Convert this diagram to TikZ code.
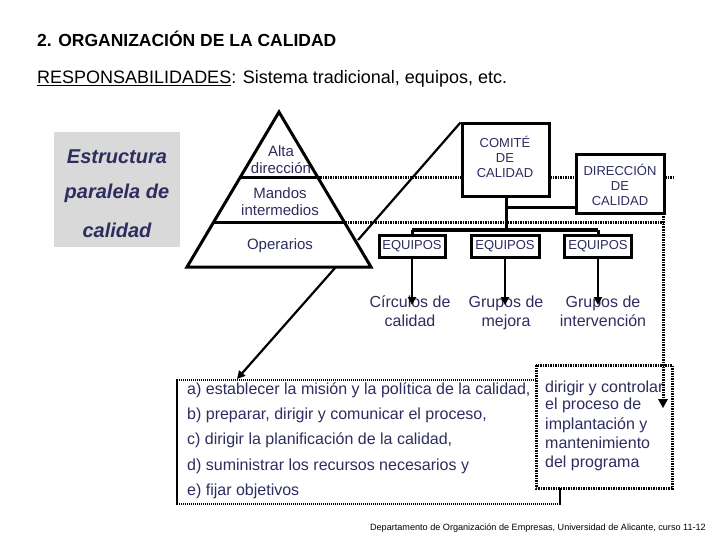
\documentclass[tikz,border=0pt]{standalone}
\usepackage{fontspec}
\setmainfont{Liberation Sans}
\usetikzlibrary{arrows.meta}
\definecolor{txt}{RGB}{45,45,95}
\definecolor{gbox}{RGB}{217,217,217}
\begin{document}
\begin{tikzpicture}[x=1pt,y=-1pt,
  thick box/.style={draw=black,line width=3pt,inner sep=0pt},
  tx/.style={text=txt,font=\fontsize{13}{15}\selectfont,align=center,inner sep=0pt},
  tt/.style={text=txt,font=\fontsize{15}{17}\selectfont,align=center,inner sep=0pt},
  bt/.style={text=txt,font=\fontsize{16}{18}\selectfont,anchor=west,inner sep=0pt},
  dotl/.style={line width=3pt,dash pattern=on 1.5pt off 1pt},
  fine dot/.style={line width=1.3pt,dash pattern=on 1pt off 1pt},
  conn/.style={line width=3pt},
  arr/.style={line width=2.2pt,-{Triangle[length=8pt,width=8pt]}}]
\useasboundingbox (0,0) rectangle (720,540);
% title
\node[anchor=west,inner sep=0pt,font=\bfseries\fontsize{17.5}{19}\selectfont] (title) at (37,39) {2. ORGANIZACIÓN DE LA CALIDAD};
\node[anchor=west,inner sep=0pt,font=\fontsize{18}{20}\selectfont] (sub) at (37,79) {\underline{RESPONSABILIDADES}: Sistema tradicional, equipos, etc.};
% gray box
\fill[gbox] (54,132) rectangle (180,247);
\node[tx,font=\bfseries\itshape\fontsize{20}{22}\selectfont] (e1) at (117,157) {Estructura};
\node[tx,font=\bfseries\itshape\fontsize{20}{22}\selectfont] (e2) at (117,193) {paralela de};
\node[tx,font=\bfseries\itshape\fontsize{20}{22}\selectfont] (e3) at (117,230) {calidad};
% dotted level lines
\draw[dotl] (320,178) -- (673,178);
\draw[dotl] (345,223) -- (663,223);
% triangle
\coordinate (apex) at (279,112);
\coordinate (bl) at (187,267);
\coordinate (br) at (371,267);
\draw[line width=3pt,line join=miter] (apex) -- (bl) -- (br) -- cycle;
\draw[line width=3pt] (239,178) -- (320,178);
\draw[line width=3pt] (213,223) -- (345,223);
\node[tt] (alta) at (281,160) {Alta\\dirección};
\node[tt] (mandos) at (280,202) {Mandos\\intermedios};
\node[tt] (oper) at (280,246) {Operarios};
% boxes
\node[thick box,fill=white,minimum width=87pt,minimum height=73pt] (com) at (505.5,160.5) {};
\node[tx,anchor=center] (comt) at (505,157) {COMITÉ\\DE\\CALIDAD};
\node[thick box,fill=white,minimum width=88pt,minimum height=59pt,tx,draw=black] (dir) at (620,184.5) {DIRECCIÓN\\DE\\CALIDAD};
% diagonal lines
\draw[line width=2.2pt] (358,240) -- (com.north west);
\coordinate (ds) at (335,268);
\coordinate (dtip) at (237,379);
\draw[arr] (ds) -- (dtip);
% connectors
\coordinate (j1) at (506,208);
\coordinate (j2) at (506,230);
\draw[conn] (506,197) -- (j2);
\draw[conn] (j1) -- (dir.west |- j1);
\node[thick box,fill=white,minimum width=66pt,minimum height=22pt,tx] (q1) at (412,246) {EQUIPOS};
\node[thick box,fill=white,minimum width=68pt,minimum height=22pt,tx] (q2) at (505,246) {EQUIPOS};
\node[thick box,fill=white,minimum width=67pt,minimum height=22pt,tx] (q3) at (598,246) {EQUIPOS};
\draw[conn] (q1.north |- j2) -- (q3.north |- j2);
\draw[conn] (q1.north |- j2) -- (q1.north);
\draw[conn] (q3.north |- j2) -- (q3.north);
\node[tx,font=\fontsize{16}{19}\selectfont,anchor=base] (g1) at (410,326) {Círculos de\\calidad};
\node[tx,font=\fontsize{16}{19}\selectfont,anchor=base] (g2) at (506,326) {Grupos de\\mejora};
\node[tx,font=\fontsize{16}{19}\selectfont,anchor=base] (g3) at (603,326) {Grupos de\\intervención};
\draw[arr] (q1.south) -- (412,305);
\draw[arr] (q2.south) -- (505,305);
\draw[arr] (q3.south) -- (598,305);
% bottom box
\draw[fine dot] (177,380) -- (560,380);
\draw[fine dot] (177,504) -- (560,504);
\draw[line width=2.2pt] (177,379) -- (177,505);
\draw[line width=2.2pt] (560,488) -- (560,505);
\node[bt] (a) at (187,390) {a) establecer la misión y la política de la calidad,};
\node[bt] (b) at (187,415) {b) preparar, dirigir y comunicar el proceso,};
\node[bt] (c) at (187,440) {c) dirigir la planificación de la calidad,};
\node[bt] (d) at (187,466) {d) suministrar los recursos necesarios y};
\node[bt] (e) at (187,491) {e) fijar objetivos};
% right dotted box
\draw[dotl,fill=white] (536,365) rectangle (672,488);
\node[bt] (r1) at (545,388) {dirigir y controlar};
\node[bt,align=left,anchor=north west,font=\fontsize{16}{19.3}\selectfont] (r2) at (545,398) {el proceso de\\implantación y\\mantenimiento\\del programa};
\coordinate (rtip) at (663,408);
\draw[dotl] (663,214) -- (663,400);
\fill (658,399) -- (668,399) -- (rtip) -- cycle;
% footer
\node[anchor=east,inner sep=0pt,font=\fontsize{9.1}{10}\selectfont] (foot) at (706,528) {Departamento de Organización de Empresas, Universidad de Alicante, curso 11-12};
\end{tikzpicture}
\end{document}
